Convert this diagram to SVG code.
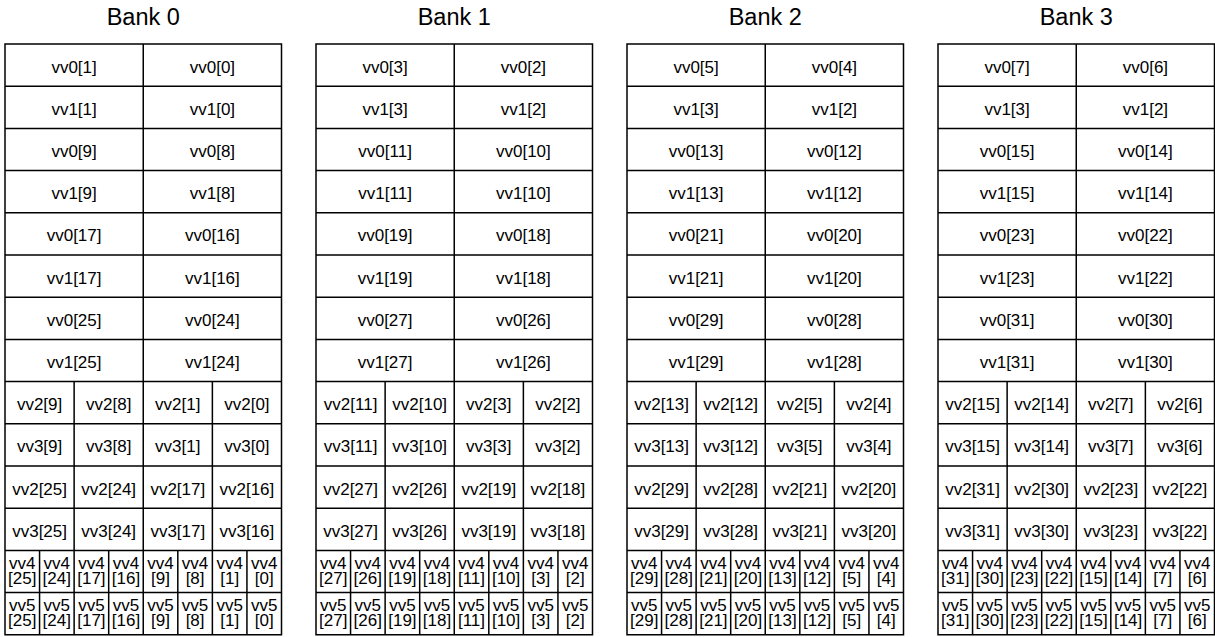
<svg xmlns="http://www.w3.org/2000/svg" xmlns:xlink="http://www.w3.org/1999/xlink" width="1215" height="637" viewBox="0 0 1215 637">
<style>
.g{fill:none;stroke:#000;stroke-width:1.5}
text{font-family:"Liberation Sans",Arial,Helvetica,sans-serif;text-anchor:middle;fill:#000}
.t{font-size:17px}
.s{font-size:17px}
.h{font-size:23.5px}
</style>
<defs>
<path id="grid" class="g" d="M0,44H276.5V634.8H0Z M0,86.2H276.5 M0,128.4H276.5 M0,170.6H276.5 M0,212.8H276.5 M0,255H276.5 M0,297.2H276.5 M0,339.4H276.5 M0,381.6H276.5 M0,423.8H276.5 M0,466H276.5 M0,508.2H276.5 M0,550.4H276.5 M0,592.6H276.5 M138.25,44V634.8 M69.125,381.6V634.8 M207.375,381.6V634.8 M34.56,550.4V634.8 M103.69,550.4V634.8 M172.81,550.4V634.8 M241.94,550.4V634.8"/>
</defs>
<rect width="1215" height="637" fill="#fff"/>
<g id="connectors"></g>

<g id="bank0" transform="translate(5,0)">
<use xlink:href="#grid" href="#grid"/>
<text class="h" x="138.25" y="25">Bank 0</text>
<g class="t">
<text x="69.1" y="72.6">vv0[1]</text><text x="207.4" y="72.6">vv0[0]</text>
<text x="69.1" y="114.8">vv1[1]</text><text x="207.4" y="114.8">vv1[0]</text>
<text x="69.1" y="157">vv0[9]</text><text x="207.4" y="157">vv0[8]</text>
<text x="69.1" y="199.2">vv1[9]</text><text x="207.4" y="199.2">vv1[8]</text>
<text x="69.1" y="241.4">vv0[17]</text><text x="207.4" y="241.4">vv0[16]</text>
<text x="69.1" y="283.6">vv1[17]</text><text x="207.4" y="283.6">vv1[16]</text>
<text x="69.1" y="325.8">vv0[25]</text><text x="207.4" y="325.8">vv0[24]</text>
<text x="69.1" y="368">vv1[25]</text><text x="207.4" y="368">vv1[24]</text>
<text x="34.6" y="410.2">vv2[9]</text><text x="103.7" y="410.2">vv2[8]</text><text x="172.8" y="410.2">vv2[1]</text><text x="241.9" y="410.2">vv2[0]</text>
<text x="34.6" y="452.4">vv3[9]</text><text x="103.7" y="452.4">vv3[8]</text><text x="172.8" y="452.4">vv3[1]</text><text x="241.9" y="452.4">vv3[0]</text>
<text x="34.6" y="494.6">vv2[25]</text><text x="103.7" y="494.6">vv2[24]</text><text x="172.8" y="494.6">vv2[17]</text><text x="241.9" y="494.6">vv2[16]</text>
<text x="34.6" y="536.8">vv3[25]</text><text x="103.7" y="536.8">vv3[24]</text><text x="172.8" y="536.8">vv3[17]</text><text x="241.9" y="536.8">vv3[16]</text>
</g>
<g class="s">
<text x="17.3" y="568.9">vv4<tspan x="17.3" dy="15">[25]</tspan></text>
<text x="51.8" y="568.9">vv4<tspan x="51.8" dy="15">[24]</tspan></text>
<text x="86.4" y="568.9">vv4<tspan x="86.4" dy="15">[17]</tspan></text>
<text x="121" y="568.9">vv4<tspan x="121" dy="15">[16]</tspan></text>
<text x="155.5" y="568.9">vv4<tspan x="155.5" dy="15">[9]</tspan></text>
<text x="190.1" y="568.9">vv4<tspan x="190.1" dy="15">[8]</tspan></text>
<text x="224.7" y="568.9">vv4<tspan x="224.7" dy="15">[1]</tspan></text>
<text x="259.2" y="568.9">vv4<tspan x="259.2" dy="15">[0]</tspan></text>
<text x="17.3" y="611.1">vv5<tspan x="17.3" dy="15">[25]</tspan></text>
<text x="51.8" y="611.1">vv5<tspan x="51.8" dy="15">[24]</tspan></text>
<text x="86.4" y="611.1">vv5<tspan x="86.4" dy="15">[17]</tspan></text>
<text x="121" y="611.1">vv5<tspan x="121" dy="15">[16]</tspan></text>
<text x="155.5" y="611.1">vv5<tspan x="155.5" dy="15">[9]</tspan></text>
<text x="190.1" y="611.1">vv5<tspan x="190.1" dy="15">[8]</tspan></text>
<text x="224.7" y="611.1">vv5<tspan x="224.7" dy="15">[1]</tspan></text>
<text x="259.2" y="611.1">vv5<tspan x="259.2" dy="15">[0]</tspan></text>
</g>
</g>

<g id="bank1" transform="translate(316,0)">
<use xlink:href="#grid" href="#grid"/>
<text class="h" x="138.25" y="25">Bank 1</text>
<g class="t">
<text x="69.1" y="72.6">vv0[3]</text><text x="207.4" y="72.6">vv0[2]</text>
<text x="69.1" y="114.8">vv1[3]</text><text x="207.4" y="114.8">vv1[2]</text>
<text x="69.1" y="157">vv0[11]</text><text x="207.4" y="157">vv0[10]</text>
<text x="69.1" y="199.2">vv1[11]</text><text x="207.4" y="199.2">vv1[10]</text>
<text x="69.1" y="241.4">vv0[19]</text><text x="207.4" y="241.4">vv0[18]</text>
<text x="69.1" y="283.6">vv1[19]</text><text x="207.4" y="283.6">vv1[18]</text>
<text x="69.1" y="325.8">vv0[27]</text><text x="207.4" y="325.8">vv0[26]</text>
<text x="69.1" y="368">vv1[27]</text><text x="207.4" y="368">vv1[26]</text>
<text x="34.6" y="410.2">vv2[11]</text><text x="103.7" y="410.2">vv2[10]</text><text x="172.8" y="410.2">vv2[3]</text><text x="241.9" y="410.2">vv2[2]</text>
<text x="34.6" y="452.4">vv3[11]</text><text x="103.7" y="452.4">vv3[10]</text><text x="172.8" y="452.4">vv3[3]</text><text x="241.9" y="452.4">vv3[2]</text>
<text x="34.6" y="494.6">vv2[27]</text><text x="103.7" y="494.6">vv2[26]</text><text x="172.8" y="494.6">vv2[19]</text><text x="241.9" y="494.6">vv2[18]</text>
<text x="34.6" y="536.8">vv3[27]</text><text x="103.7" y="536.8">vv3[26]</text><text x="172.8" y="536.8">vv3[19]</text><text x="241.9" y="536.8">vv3[18]</text>
</g>
<g class="s">
<text x="17.3" y="568.9">vv4<tspan x="17.3" dy="15">[27]</tspan></text>
<text x="51.8" y="568.9">vv4<tspan x="51.8" dy="15">[26]</tspan></text>
<text x="86.4" y="568.9">vv4<tspan x="86.4" dy="15">[19]</tspan></text>
<text x="121" y="568.9">vv4<tspan x="121" dy="15">[18]</tspan></text>
<text x="155.5" y="568.9">vv4<tspan x="155.5" dy="15">[11]</tspan></text>
<text x="190.1" y="568.9">vv4<tspan x="190.1" dy="15">[10]</tspan></text>
<text x="224.7" y="568.9">vv4<tspan x="224.7" dy="15">[3]</tspan></text>
<text x="259.2" y="568.9">vv4<tspan x="259.2" dy="15">[2]</tspan></text>
<text x="17.3" y="611.1">vv5<tspan x="17.3" dy="15">[27]</tspan></text>
<text x="51.8" y="611.1">vv5<tspan x="51.8" dy="15">[26]</tspan></text>
<text x="86.4" y="611.1">vv5<tspan x="86.4" dy="15">[19]</tspan></text>
<text x="121" y="611.1">vv5<tspan x="121" dy="15">[18]</tspan></text>
<text x="155.5" y="611.1">vv5<tspan x="155.5" dy="15">[11]</tspan></text>
<text x="190.1" y="611.1">vv5<tspan x="190.1" dy="15">[10]</tspan></text>
<text x="224.7" y="611.1">vv5<tspan x="224.7" dy="15">[3]</tspan></text>
<text x="259.2" y="611.1">vv5<tspan x="259.2" dy="15">[2]</tspan></text>
</g>
</g>

<g id="bank2" transform="translate(627,0)">
<use xlink:href="#grid" href="#grid"/>
<text class="h" x="138.25" y="25">Bank 2</text>
<g class="t">
<text x="69.1" y="72.6">vv0[5]</text><text x="207.4" y="72.6">vv0[4]</text>
<text x="69.1" y="114.8">vv1[3]</text><text x="207.4" y="114.8">vv1[2]</text>
<text x="69.1" y="157">vv0[13]</text><text x="207.4" y="157">vv0[12]</text>
<text x="69.1" y="199.2">vv1[13]</text><text x="207.4" y="199.2">vv1[12]</text>
<text x="69.1" y="241.4">vv0[21]</text><text x="207.4" y="241.4">vv0[20]</text>
<text x="69.1" y="283.6">vv1[21]</text><text x="207.4" y="283.6">vv1[20]</text>
<text x="69.1" y="325.8">vv0[29]</text><text x="207.4" y="325.8">vv0[28]</text>
<text x="69.1" y="368">vv1[29]</text><text x="207.4" y="368">vv1[28]</text>
<text x="34.6" y="410.2">vv2[13]</text><text x="103.7" y="410.2">vv2[12]</text><text x="172.8" y="410.2">vv2[5]</text><text x="241.9" y="410.2">vv2[4]</text>
<text x="34.6" y="452.4">vv3[13]</text><text x="103.7" y="452.4">vv3[12]</text><text x="172.8" y="452.4">vv3[5]</text><text x="241.9" y="452.4">vv3[4]</text>
<text x="34.6" y="494.6">vv2[29]</text><text x="103.7" y="494.6">vv2[28]</text><text x="172.8" y="494.6">vv2[21]</text><text x="241.9" y="494.6">vv2[20]</text>
<text x="34.6" y="536.8">vv3[29]</text><text x="103.7" y="536.8">vv3[28]</text><text x="172.8" y="536.8">vv3[21]</text><text x="241.9" y="536.8">vv3[20]</text>
</g>
<g class="s">
<text x="17.3" y="568.9">vv4<tspan x="17.3" dy="15">[29]</tspan></text>
<text x="51.8" y="568.9">vv4<tspan x="51.8" dy="15">[28]</tspan></text>
<text x="86.4" y="568.9">vv4<tspan x="86.4" dy="15">[21]</tspan></text>
<text x="121" y="568.9">vv4<tspan x="121" dy="15">[20]</tspan></text>
<text x="155.5" y="568.9">vv4<tspan x="155.5" dy="15">[13]</tspan></text>
<text x="190.1" y="568.9">vv4<tspan x="190.1" dy="15">[12]</tspan></text>
<text x="224.7" y="568.9">vv4<tspan x="224.7" dy="15">[5]</tspan></text>
<text x="259.2" y="568.9">vv4<tspan x="259.2" dy="15">[4]</tspan></text>
<text x="17.3" y="611.1">vv5<tspan x="17.3" dy="15">[29]</tspan></text>
<text x="51.8" y="611.1">vv5<tspan x="51.8" dy="15">[28]</tspan></text>
<text x="86.4" y="611.1">vv5<tspan x="86.4" dy="15">[21]</tspan></text>
<text x="121" y="611.1">vv5<tspan x="121" dy="15">[20]</tspan></text>
<text x="155.5" y="611.1">vv5<tspan x="155.5" dy="15">[13]</tspan></text>
<text x="190.1" y="611.1">vv5<tspan x="190.1" dy="15">[12]</tspan></text>
<text x="224.7" y="611.1">vv5<tspan x="224.7" dy="15">[5]</tspan></text>
<text x="259.2" y="611.1">vv5<tspan x="259.2" dy="15">[4]</tspan></text>
</g>
</g>

<g id="bank3" transform="translate(938,0)">
<use xlink:href="#grid" href="#grid"/>
<text class="h" x="138.25" y="25">Bank 3</text>
<g class="t">
<text x="69.1" y="72.6">vv0[7]</text><text x="207.4" y="72.6">vv0[6]</text>
<text x="69.1" y="114.8">vv1[3]</text><text x="207.4" y="114.8">vv1[2]</text>
<text x="69.1" y="157">vv0[15]</text><text x="207.4" y="157">vv0[14]</text>
<text x="69.1" y="199.2">vv1[15]</text><text x="207.4" y="199.2">vv1[14]</text>
<text x="69.1" y="241.4">vv0[23]</text><text x="207.4" y="241.4">vv0[22]</text>
<text x="69.1" y="283.6">vv1[23]</text><text x="207.4" y="283.6">vv1[22]</text>
<text x="69.1" y="325.8">vv0[31]</text><text x="207.4" y="325.8">vv0[30]</text>
<text x="69.1" y="368">vv1[31]</text><text x="207.4" y="368">vv1[30]</text>
<text x="34.6" y="410.2">vv2[15]</text><text x="103.7" y="410.2">vv2[14]</text><text x="172.8" y="410.2">vv2[7]</text><text x="241.9" y="410.2">vv2[6]</text>
<text x="34.6" y="452.4">vv3[15]</text><text x="103.7" y="452.4">vv3[14]</text><text x="172.8" y="452.4">vv3[7]</text><text x="241.9" y="452.4">vv3[6]</text>
<text x="34.6" y="494.6">vv2[31]</text><text x="103.7" y="494.6">vv2[30]</text><text x="172.8" y="494.6">vv2[23]</text><text x="241.9" y="494.6">vv2[22]</text>
<text x="34.6" y="536.8">vv3[31]</text><text x="103.7" y="536.8">vv3[30]</text><text x="172.8" y="536.8">vv3[23]</text><text x="241.9" y="536.8">vv3[22]</text>
</g>
<g class="s">
<text x="17.3" y="568.9">vv4<tspan x="17.3" dy="15">[31]</tspan></text>
<text x="51.8" y="568.9">vv4<tspan x="51.8" dy="15">[30]</tspan></text>
<text x="86.4" y="568.9">vv4<tspan x="86.4" dy="15">[23]</tspan></text>
<text x="121" y="568.9">vv4<tspan x="121" dy="15">[22]</tspan></text>
<text x="155.5" y="568.9">vv4<tspan x="155.5" dy="15">[15]</tspan></text>
<text x="190.1" y="568.9">vv4<tspan x="190.1" dy="15">[14]</tspan></text>
<text x="224.7" y="568.9">vv4<tspan x="224.7" dy="15">[7]</tspan></text>
<text x="259.2" y="568.9">vv4<tspan x="259.2" dy="15">[6]</tspan></text>
<text x="17.3" y="611.1">vv5<tspan x="17.3" dy="15">[31]</tspan></text>
<text x="51.8" y="611.1">vv5<tspan x="51.8" dy="15">[30]</tspan></text>
<text x="86.4" y="611.1">vv5<tspan x="86.4" dy="15">[23]</tspan></text>
<text x="121" y="611.1">vv5<tspan x="121" dy="15">[22]</tspan></text>
<text x="155.5" y="611.1">vv5<tspan x="155.5" dy="15">[15]</tspan></text>
<text x="190.1" y="611.1">vv5<tspan x="190.1" dy="15">[14]</tspan></text>
<text x="224.7" y="611.1">vv5<tspan x="224.7" dy="15">[7]</tspan></text>
<text x="259.2" y="611.1">vv5<tspan x="259.2" dy="15">[6]</tspan></text>
</g>
</g>
</svg>
